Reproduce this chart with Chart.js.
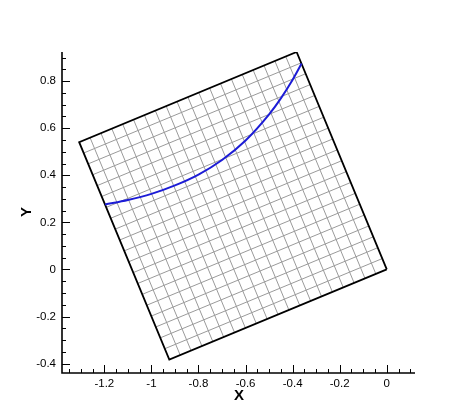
<!DOCTYPE html>
<html>
<head>
<meta charset="utf-8">
<script src="https://cdn.jsdelivr.net/npm/chart.js@4"></script>
<style>
  body { margin: 0; background: #fff; }
  #wrap { width: 474px; height: 420px; position: relative; }
</style>
</head>
<body>
<div id="wrap"><canvas id="chart"></canvas></div>
<script>
// axis ticks
const xTicks = [-1.2, -1, -0.8, -0.6, -0.4, -0.2, 0];
const yTicks = [-0.4, -0.2, 0, 0.2, 0.4, 0.6, 0.8];
const minorStep = 0.05;

// mesh corners: bottom-right, top-right, top-left, bottom-left
const cornerX = [0, -0.383, -1.307, -0.924];
const cornerY = [0, 0.924, 0.541, -0.383];
const meshDivisions = 20;

// blue curve
const curveX = [-1.197, -1.1, -1.0, -0.9, -0.8, -0.7, -0.6, -0.5, -0.45, -0.4, -0.362];
const curveY = [0.276, 0.295, 0.321, 0.357, 0.403, 0.465, 0.548, 0.659, 0.727, 0.806, 0.875];

const FONT = "'Liberation Sans', Arial, sans-serif";

function lerp(a, b, t) { return a + (b - a) * t; }
function cornerPt(i) { return { x: cornerX[i], y: cornerY[i] }; }

let datasets = [];

// curve on top
datasets.push({
    data: curveX.map((x, i) => ({ x: x, y: curveY[i] })),
    showLine: true,
    borderColor: '#1c1cd6',
    borderWidth: 2,
    pointRadius: 0,
    cubicInterpolationMode: 'monotone',
    order: 0
});

// mesh border
let border = [0, 1, 2, 3, 0].map(cornerPt);
datasets.push({
    data: border,
    showLine: true,
    borderColor: '#000',
    borderWidth: 1.8,
    pointRadius: 0,
    order: 1
});

// interior mesh lines
let br = cornerPt(0), tr = cornerPt(1), tl = cornerPt(2), bl = cornerPt(3);
for (let i = 1; i < meshDivisions; i++) {
    let t = i / meshDivisions;
    datasets.push({
        data: [{ x: lerp(br.x, tr.x, t), y: lerp(br.y, tr.y, t) },
               { x: lerp(bl.x, tl.x, t), y: lerp(bl.y, tl.y, t) }],
        showLine: true, borderColor: '#9a9a9a', borderWidth: 1, pointRadius: 0, order: 2
    });
    datasets.push({
        data: [{ x: lerp(br.x, bl.x, t), y: lerp(br.y, bl.y, t) },
               { x: lerp(tr.x, tl.x, t), y: lerp(tr.y, tl.y, t) }],
        showLine: true, borderColor: '#9a9a9a', borderWidth: 1, pointRadius: 0, order: 2
    });
}

function fmt(v) {
    let s = Number(v.toFixed(2)).toString();
    return s === '-0' ? '0' : s;
}

// axis lines, inward ticks and titles
const axesPlugin = {
    id: 'axes',
    afterDraw(chart) {
        const ctx = chart.ctx;
        const xs = chart.scales.x, ys = chart.scales.y;
        const a = chart.chartArea;
        ctx.save();
        ctx.strokeStyle = '#000';
        ctx.lineWidth = 1.6;
        ctx.beginPath();
        ctx.moveTo(a.left, a.top);
        ctx.lineTo(a.left, a.bottom);
        ctx.lineTo(a.right, a.bottom);
        ctx.stroke();

        ctx.lineWidth = 1;
        ctx.beginPath();
        for (let v = Math.ceil(xs.min / minorStep) * minorStep; v <= xs.max + 1e-9; v += minorStep) {
            let px = Math.round(xs.getPixelForValue(v)) + 0.5;
            let major = xTicks.some(t => Math.abs(t - v) < 1e-6);
            ctx.moveTo(px, a.bottom);
            ctx.lineTo(px, a.bottom - (major ? 8 : 4));
        }
        for (let v = Math.ceil(ys.min / minorStep) * minorStep; v <= ys.max + 1e-9; v += minorStep) {
            let py = Math.round(ys.getPixelForValue(v)) + 0.5;
            let major = yTicks.some(t => Math.abs(t - v) < 1e-6);
            ctx.moveTo(a.left, py);
            ctx.lineTo(a.left + (major ? 8 : 4), py);
        }
        ctx.stroke();

        ctx.fillStyle = '#000';
        ctx.font = 'bold 15px ' + FONT;
        ctx.textAlign = 'center';
        ctx.textBaseline = 'middle';
        ctx.fillText('X', 239, 396);
        ctx.translate(27, 212);
        ctx.rotate(-Math.PI / 2);
        ctx.fillText('Y', 0, 0);
        ctx.restore();
    }
};

new Chart(document.getElementById('chart'), {
    type: 'scatter',
    data: { datasets: datasets },
    options: {
        responsive: true,
        maintainAspectRatio: false,
        animation: false,
        layout: { padding: { top: 52, right: 59, left: 0, bottom: 0 } },
        plugins: { legend: { display: false }, tooltip: { enabled: false } },
        scales: {
            x: {
                type: 'linear', min: -1.38, max: 0.12,
                grid: { display: false, drawTicks: false }, border: { display: false },
                ticks: { color: '#000', font: { family: FONT, size: 11.5 }, padding: 4,
                         autoSkip: false, maxRotation: 0, callback: v => fmt(v) },
                afterBuildTicks: s => { s.ticks = xTicks.map(v => ({ value: v })); },
                afterFit: s => { s.height = 47; }
            },
            y: {
                type: 'linear', min: -0.44, max: 0.924,
                grid: { display: false, drawTicks: false }, border: { display: false },
                ticks: { color: '#000', font: { family: FONT, size: 11.5 }, padding: 6,
                         autoSkip: false, callback: v => fmt(v) },
                afterBuildTicks: s => { s.ticks = yTicks.map(v => ({ value: v })); },
                afterFit: s => { s.width = 62; }
            }
        }
    },
    plugins: [axesPlugin]
});
</script>
</body>
</html>
